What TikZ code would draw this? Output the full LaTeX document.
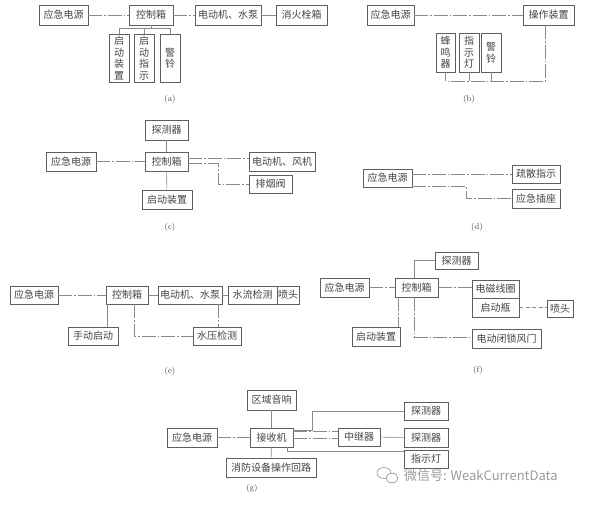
\documentclass[tikz,border=0pt]{standalone}
\usepackage{fontspec}
\newfontfamily\cjk{Noto Sans CJK SC}
\usetikzlibrary{calc}
\definecolor{boxc}{HTML}{5E5E5E}
\definecolor{txtc}{HTML}{444444}
\definecolor{linec}{HTML}{8A8A8A}
\definecolor{wmc}{HTML}{9A9A9A}
\tikzset{
 bx/.style={draw=boxc, line width=0.9pt, text=txtc, font=\cjk\fontsize{10}{11.5}\selectfont, inner sep=0pt, align=center},
 ln/.style={draw=linec, line width=0.6pt},
 dd/.style={ln, dash pattern=on 14pt off 2pt on 1.5pt off 2pt},
 dsh/.style={ln, dash pattern=on 4pt off 2.5pt},
 lbl/.style={text=txtc, font=\fontsize{8.5}{10}\selectfont},
}
\newcommand\mybox[6]{\node[bx, minimum width={(#4-#2)*1pt}, minimum height={(#5-#3)*1pt}] (#1) at ({(#2+#4)/2},{(#3+#5)/2}) {#6};}
\begin{document}
\begin{tikzpicture}[x=1pt,y=-1pt]
\useasboundingbox[fill=white] (0,0) rectangle (600,507);
% ---------- (a)
\mybox{aS}{39}{5}{88}{25}{应急电源}
\mybox{aC}{129}{5}{173}{25}{控制箱}
\mybox{aM}{195}{5}{261}{25}{电动机、水泵}
\mybox{aX}{276}{5}{327}{25}{消火栓箱}
\mybox{aK1}{109}{34}{129}{82}{启\\动\\装\\置}
\mybox{aK2}{134}{34}{154}{82}{启\\动\\指\\示}
\mybox{aK3}{160}{34}{180}{82}{警\\铃}
\draw[dd] (aS) -- (aC);
\draw[dd] (aC) -- (aM);
\draw[ln] (aM) -- (aX);
\draw[ln] (aC.south) -- ++(0,4);
\draw[ln] (aK1.north) -- ++(0,-5) -| (aK3.north);
\draw[ln] (aK2.north) -- ++(0,-5);
\node[lbl] (la) at (170,99) {(a)};
% ---------- (b)
\mybox{bS}{367}{5}{414}{25}{应急电源}
\mybox{bO}{523}{5}{574}{25}{操作装置}
\mybox{bK1}{436}{33}{455}{72}{蜂\\鸣\\器}
\mybox{bK2}{459}{33}{479}{72}{指\\示\\灯}
\mybox{bK3}{481}{33}{501}{72}{警\\铃}
\draw[dd] (bS) -- (bO);
\draw[dd] ([xshift=-3pt]bO.south) -- ++(0,56) -| (bK1.south);
\draw[ln] (bK2.south) -- ++(0,9);
\draw[ln] (bK3.south) -- ++(0,9);
\node[lbl] (lb) at (469,99) {(b)};
% ---------- (c)
\mybox{cD}{145}{120}{188}{140}{探测器}
\mybox{cS}{46}{152}{96}{171}{应急电源}
\mybox{cC}{145}{152}{188}{171}{控制箱}
\mybox{cQ}{142}{190}{192}{209}{启动装置}
\mybox{cM}{249}{152}{315}{171}{电动机、风机}
\mybox{cP}{249}{175}{292}{193}{排烟阀}
\draw[dd] (cS) -- (cC);
\draw[ln] (cD) -- (cC);
\draw[ln] (cC) -- (cQ);
\draw[dd] ([yshift=3pt]cC.east) -- ([yshift=3pt]cC.east -| cM.west);
\draw[dd] ([yshift=-2pt]cC.east) -- ++(30,0) |- (cP.west);
\node[lbl] (lc) at (170,227) {(c)};
% ---------- (d)
\mybox{dS}{363}{169}{412}{187}{应急电源}
\mybox{dE}{512}{165}{560}{183}{疏散指示}
\mybox{dI}{512}{189}{560}{208}{应急插座}
\draw[dd] ([yshift=4pt]dS.east) -- ([yshift=4pt]dS.east -| dE.west);
\draw[dd] ([yshift=-8pt]dS.east) -- ++(54,0) |- (dI.west);
\node[lbl] (ld) at (477,227) {(d)};
% ---------- (e)
\mybox{eS}{10}{286}{58}{304}{应急电源}
\mybox{eC}{106}{286}{148}{304}{控制箱}
\mybox{eM}{158}{286}{222}{304}{电动机、水泵}
\mybox{eF}{228}{286}{277}{304}{水流检测}
\mybox{eP}{277}{286}{299}{304}{喷头}
\mybox{eH}{68}{327}{118}{345}{手动启动}
\mybox{eW}{193}{327}{241}{345}{水压检测}
\draw[dd] (eS) -- (eC);
\draw[ln] (eC) -- (eM);
\draw[ln] (eM) -- (eF);
\draw[ln] ([xshift=2pt]eC.south west) -- ([xshift=2pt]eC.south west |- eH.north);
\draw[dd] ([xshift=-14pt]eC.south east) |- (eW.west);
\draw[dd] ([xshift=-4pt]eM.south east) -- ([xshift=-4pt]eM.south east |- eW.north);
\node[lbl] (le) at (170,371) {(e)};
% ---------- (f)
\mybox{fD}{435}{252}{478}{269}{探测器}
\mybox{fS}{320}{278}{369}{297}{应急电源}
\mybox{fC}{395}{278}{438}{297}{控制箱}
\mybox{fE}{472}{280}{519}{298}{电磁线圈}
\mybox{fB}{472}{298}{519}{317}{启动瓶}
\mybox{fN}{547}{300}{573}{317}{喷头}
\mybox{fQ}{352}{327}{400}{346}{启动装置}
\mybox{fW}{472}{329}{541}{348}{电动闭锁风门}
\draw[ln] (fD.west) -| ([xshift=-2pt]fC.north);
\draw[dd] (fS) -- (fC);
\draw[dd] (fC.east) -- (fC.east -| fE.west);
\draw[dsh] (fB.east) -- (fB.east -| fN.west);
\draw[dd] ([xshift=4pt]fC.south west) -- ([xshift=4pt]fC.south west |- fQ.north);
\draw[dd] ([xshift=-2pt]fC.south) |- ([yshift=1.5pt]fW.west);
\node[lbl] (lf) at (478,370) {(f)};
% ---------- (g)
\mybox{gA}{247}{390}{296}{410}{区域音响}
\mybox{gS}{167}{428}{217}{447}{应急电源}
\mybox{gR}{250}{428}{293}{447}{接收机}
\mybox{gO}{226}{458}{316}{477}{消防设备操作回路}
\mybox{gZ}{338}{428}{380}{446}{中继器}
\mybox{gD1}{404}{402}{448}{420}{探测器}
\mybox{gD2}{404}{428}{448}{447}{探测器}
\mybox{gL}{404}{450}{448}{468}{指示灯}
\draw[dd] (gS) -- (gR);
\draw[ln] (gA) -- (gR);
\draw[ln] (gR) -- (gO);
\draw[ln] ([yshift=7pt]gR.east) -- ++(19,0) |- (gD1.west);
\draw[dd] ([yshift=6pt]gR.east) -- ([yshift=6pt]gR.east -| gZ.west);
\draw[dd] ([yshift=-1pt]gR.east) -- ([yshift=-1pt]gR.east -| gZ.west);
\draw[ln] (gZ) -- (gD2);
\draw[ln] ([xshift=-6pt]gR.south east) |- ([yshift=-2pt]gL.north west);
\node[lbl] (lg) at (252,488) {(g)};
% ---------- watermark
\draw[wmc, line width=0.7pt] (384,473) ellipse (7 and 5.5);
\draw[wmc, line width=0.7pt, fill=white] (392,478) ellipse (6 and 4.8);
\node[anchor=west, text=wmc, font=\cjk\fontsize{13}{15}\selectfont, inner sep=0pt] (wm) at (404,476) {微信号: WeakCurrentData};
\end{tikzpicture}
\end{document}
